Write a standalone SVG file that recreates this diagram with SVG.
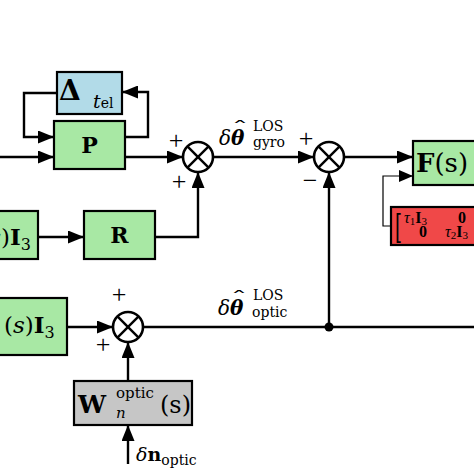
<svg xmlns="http://www.w3.org/2000/svg" width="474" height="474" viewBox="0 0 474 474">
<style>
.box{stroke:#000;stroke-width:2.2}
.g{fill:#a8e8a4}
.b{fill:#b2dbe8}
.r{fill:#f04848}
.gr{fill:#c6c6c6}
.ln{fill:none;stroke:#000;stroke-width:2.4}
.thin{fill:none;stroke:#000;stroke-width:1.2}
.sum{fill:#fff;stroke:#000;stroke-width:2.6}
.cr{stroke:#000;stroke-width:2.4}
text{font-family:"DejaVu Serif","Liberation Serif",serif;fill:#000}
.pm{font-family:"Liberation Serif",serif;font-size:26px}
.mx{font-family:"Liberation Serif",serif;font-size:16px}
</style>
<defs>
<marker id="ah" markerUnits="userSpaceOnUse" markerWidth="17" markerHeight="13" refX="16" refY="6.5" orient="auto">
<path d="M0,0 L16,6.5 L0,13 z" fill="#000"/>
</marker>
<marker id="ahs" markerUnits="userSpaceOnUse" markerWidth="15" markerHeight="12" refX="14" refY="6" orient="auto">
<path d="M0,0 L14,6 L0,12 z" fill="#000"/>
</marker>
</defs>

<g id="connectors">
<line class="ln" x1="0" y1="157" x2="54" y2="157" marker-end="url(#ah)"/>
<polyline class="ln" points="57,93 24,93 24,137 54,137" marker-end="url(#ah)"/>
<polyline class="ln" points="125,137 148,137 148,92 122,92" marker-end="url(#ah)"/>
<line class="ln" x1="125" y1="157" x2="183" y2="157" marker-end="url(#ah)"/>
<line class="ln" x1="38" y1="237" x2="84" y2="237" marker-end="url(#ah)"/>
<polyline class="ln" points="155,237 198,237 198,172" marker-end="url(#ah)"/>
<line class="ln" x1="213" y1="157" x2="314" y2="157" marker-end="url(#ah)"/>
<line class="ln" x1="344" y1="157" x2="413" y2="157" marker-end="url(#ah)"/>
<polyline class="thin" points="391,226 383,226 383,176 413,176" marker-end="url(#ahs)"/>
<line class="ln" x1="329" y1="327" x2="329" y2="172" marker-end="url(#ah)"/>
<line class="ln" x1="143" y1="327" x2="474" y2="327"/>
<circle cx="329" cy="327" r="4.5" fill="#000"/>
<line class="ln" x1="67" y1="327" x2="113" y2="327" marker-end="url(#ah)"/>
<line class="ln" x1="128" y1="381" x2="128" y2="342" marker-end="url(#ah)"/>
<line class="ln" x1="128" y1="464" x2="128" y2="425" marker-end="url(#ah)"/>
</g>

<g id="delta">
<rect class="box b" x="57" y="72" width="65" height="42"/>
<text x="59" y="100" font-size="28" font-weight="bold">Δ</text>
<text x="93" y="108" font-size="19" font-style="italic">t<tspan font-style="normal" font-size="14">el</tspan></text>
</g>

<g id="P">
<rect class="box g" x="54" y="121" width="71" height="48"/>
<text x="89.5" y="153" font-size="22" font-weight="bold" text-anchor="middle">P</text>
</g>

<g id="R">
<rect class="box g" x="84" y="211" width="71" height="48"/>
<text x="119.5" y="243" font-size="22" font-weight="bold" text-anchor="middle">R</text>
</g>

<g id="topleft">
<rect class="box g" x="-3" y="211" width="41" height="48"/>
<text x="31" y="245" font-size="23" text-anchor="end">(<tspan font-style="italic">s</tspan>)<tspan font-weight="bold">I</tspan><tspan font-size="16" dy="5">3</tspan></text>
</g>

<g id="bottomleft">
<rect class="box g" x="-3" y="298" width="70" height="57"/>
<text x="4" y="333" font-size="23">(<tspan font-style="italic">s</tspan>)<tspan font-weight="bold">I</tspan><tspan font-size="16" dy="5">3</tspan></text>
</g>

<g id="W">
<rect class="box gr" x="74" y="381" width="118" height="44"/>
<text x="78" y="413" font-size="25" font-weight="bold">W</text>
<text x="116" y="398" font-size="15">optic</text>
<text x="116" y="418" font-size="15" font-style="italic">n</text>
<text x="160" y="413" font-size="24">(s)</text>
</g>

<g id="F">
<rect class="box g" x="413" y="141" width="64" height="44"/>
<text x="416" y="172" font-size="26"><tspan font-weight="bold">F</tspan>(s)</text>
</g>

<g id="tau">
<rect class="box r" x="391" y="207" width="86" height="38"/>
<text x="0" y="0" font-family="Liberation Serif" font-size="18" transform="translate(395 238) scale(1 1.85)">[</text>
<text class="mx" x="404" y="223" font-style="italic">τ<tspan font-style="normal" font-size="11" dy="2">1</tspan><tspan font-style="normal" font-weight="bold" dy="-2">I</tspan><tspan font-style="normal" font-size="11" dy="2">3</tspan></text>
<text class="mx" x="458" y="223" font-weight="bold">0</text>
<text class="mx" x="419" y="237" font-weight="bold">0</text>
<text class="mx" x="445" y="237" font-style="italic">τ<tspan font-style="normal" font-size="11" dy="2">2</tspan><tspan font-style="normal" font-weight="bold" dy="-2">I</tspan><tspan font-style="normal" font-size="11" dy="2">3</tspan></text>
</g>

<g id="sum1">
<circle class="sum" cx="198" cy="157" r="15"/>
<line class="cr" x1="187.4" y1="146.4" x2="208.6" y2="167.6"/>
<line class="cr" x1="187.4" y1="167.6" x2="208.6" y2="146.4"/>
<text class="pm" x="176" y="149" text-anchor="middle">+</text>
<text class="pm" x="179" y="190" text-anchor="middle">+</text>
</g>

<g id="sum2">
<circle class="sum" cx="329" cy="157" r="15"/>
<line class="cr" x1="318.4" y1="146.4" x2="339.6" y2="167.6"/>
<line class="cr" x1="318.4" y1="167.6" x2="339.6" y2="146.4"/>
<text class="pm" x="306" y="147" text-anchor="middle">+</text>
<text class="pm" x="310" y="189" text-anchor="middle">−</text>
</g>

<g id="sum3">
<circle class="sum" cx="128" cy="327" r="15"/>
<line class="cr" x1="117.4" y1="316.4" x2="138.6" y2="337.6"/>
<line class="cr" x1="117.4" y1="337.6" x2="138.6" y2="316.4"/>
<text class="pm" x="119" y="303" text-anchor="middle">+</text>
<text class="pm" x="103" y="353" text-anchor="middle">+</text>
</g>

<g id="labels">
<text x="219" y="145" font-size="20"><tspan font-style="italic">δ</tspan><tspan font-weight="bold" font-style="italic">θ</tspan></text>
<text x="0" y="0" font-size="20" text-anchor="middle" transform="translate(240 133) scale(1.7 0.8)">ˆ</text>
<text x="253" y="131" font-size="14">LOS</text>
<text x="253" y="147" font-size="14">gyro</text>
<text x="218" y="315" font-size="20"><tspan font-style="italic">δ</tspan><tspan font-weight="bold" font-style="italic">θ</tspan></text>
<text x="0" y="0" font-size="20" text-anchor="middle" transform="translate(239 303) scale(1.7 0.8)">ˆ</text>
<text x="253" y="300" font-size="14">LOS</text>
<text x="252" y="317" font-size="14">optic</text>
<text x="136" y="461" font-size="19"><tspan font-style="italic">δ</tspan><tspan font-weight="bold">n</tspan><tspan font-size="14" dy="4">optic</tspan></text>
</g>
</svg>
